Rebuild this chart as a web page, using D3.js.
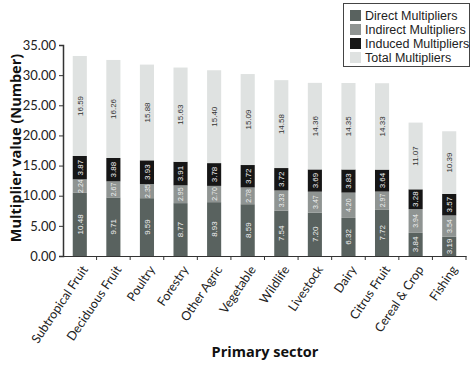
<!DOCTYPE html>
<html><head><meta charset="utf-8">
<script src="https://cdn.jsdelivr.net/npm/d3@7"></script>
<style>body{margin:0;background:#fff}svg{display:block}</style>
</head><body>
<svg id="c" width="474" height="369"></svg>
<script>
const categories = ["Subtropical Fruit","Deciduous Fruit","Poultry","Forestry","Other Agric","Vegetable","Wildlife","Livestock","Dairy","Citrus Fruit","Cereal & Crop","Fishing"];
const direct   = [10.48, 9.71, 9.59, 8.77, 8.93, 8.59, 7.54, 7.20, 6.32, 7.72, 3.84, 3.19];
const indirect = [2.24, 2.67, 2.35, 2.95, 2.70, 2.78, 3.33, 3.47, 4.20, 2.97, 3.94, 3.54];
const induced  = [3.87, 3.88, 3.93, 3.91, 3.78, 3.72, 3.72, 3.69, 3.83, 3.64, 3.28, 3.57];
const total    = [16.59, 16.26, 15.88, 15.63, 15.40, 15.09, 14.58, 14.36, 14.35, 14.33, 11.07, 10.39];
const seriesNames = ["Direct Multipliers","Indirect Multipliers","Induced Multipliers","Total Multipliers"];
const yTicks = [0,5,10,15,20,25,30,35];

const colors = ["#59625f","#8f9492","#161616","#dfe2e1"];
const labelColors = ["#f0f0f0","#f0f0f0","#f0f0f0","#333"];
const svg = d3.select("#c");
const rows = categories.map((c,i)=>({cat:c, s0:direct[i], s1:indirect[i], s2:induced[i], s3:total[i]}));
const stack = d3.stack().keys(["s0","s1","s2","s3"])(rows);

const x = d3.scaleBand().domain(categories).range([63,466]).paddingInner(0.58).paddingOuter(0.29);
const y = d3.scaleLinear().domain([0,35]).range([256,45]);

// bars
stack.forEach((layer,k)=>{
  const g = svg.append("g");
  g.selectAll("rect").data(layer).enter().append("rect")
    .attr("x",d=>x(d.data.cat)).attr("width",x.bandwidth())
    .attr("y",d=>y(d[1])).attr("height",d=>y(d[0])-y(d[1]))
    .attr("fill",colors[k]);
  g.selectAll("text").data(layer).enter().append("text")
    .attr("transform",d=>`translate(${x(d.data.cat)+x.bandwidth()/2+2.8},${(y(d[0])+y(d[1]))/2}) rotate(-90)`)
    .attr("text-anchor","middle")
    .attr("font-family","Liberation Sans, Arial, sans-serif")
    .attr("font-size", k===1 ? 7 : 8)
    .attr("fill",labelColors[k])
    .text(d=>(d[1]-d[0]).toFixed(2));
});

// y axis
const ya = svg.append("g").attr("transform","translate(63,0)")
  .call(d3.axisLeft(y).tickValues(yTicks).tickFormat(d=>d.toFixed(2)).tickSize(4).tickPadding(3));
ya.select(".domain").attr("stroke","#333").attr("stroke-width",1.5);
ya.selectAll(".tick line").attr("stroke","#333");
ya.selectAll("text").attr("font-family","Lato, Carlito, sans-serif").attr("font-size",13).attr("fill","#222");

// x axis
const xa = svg.append("g").attr("transform","translate(0,256)")
  .call(d3.axisBottom(x).tickSize(0).tickPadding(0));
xa.select(".domain").attr("stroke","#333").attr("stroke-width",1.2);
xa.selectAll(".tick line").remove();
// ticks at band boundaries
svg.append("g").selectAll("line").data(categories.slice(1).map(c=>x(c)-(x.step()-x.bandwidth())/2))
  .enter().append("line").attr("x1",d=>d).attr("x2",d=>d).attr("y1",256).attr("y2",260).attr("stroke","#333");
svg.append("line").attr("x1",466).attr("x2",466).attr("y1",256).attr("y2",260).attr("stroke","#333");
xa.selectAll("text")
  .attr("font-family","Lato, Carlito, sans-serif").attr("font-size",12.5).attr("fill","#222")
  .attr("text-anchor","end").attr("dy","0.35em")
  .attr("transform","translate(5,11) rotate(-56)");

// axis titles
svg.append("text").attr("transform","translate(21,148) rotate(-90)")
  .attr("text-anchor","middle").attr("font-family","Open Sans, sans-serif").attr("font-weight","bold")
  .attr("font-size",14.5).attr("fill","#111").text("Multiplier value (Number)");
svg.append("text").attr("x",265).attr("y",357)
  .attr("text-anchor","middle").attr("font-family","Open Sans, sans-serif").attr("font-weight","bold")
  .attr("font-size",14.5).attr("fill","#111").text("Primary sector");

// legend
const lg = svg.append("g");
lg.append("rect").attr("x",343.5).attr("y",3.5).attr("width",126).attr("height",63)
  .attr("fill","#fff").attr("stroke","#444").attr("stroke-width",1);
seriesNames.forEach((s,i)=>{
  lg.append("rect").attr("x",350).attr("y",10+i*14).attr("width",11).attr("height",11).attr("fill",colors[i]);
  lg.append("text").attr("x",365).attr("y",15.5+i*14).attr("dy","0.35em")
    .attr("font-family","Liberation Sans, Arial, sans-serif").attr("font-size",12.5).attr("fill","#222").text(s);
});
</script>
</body></html>
